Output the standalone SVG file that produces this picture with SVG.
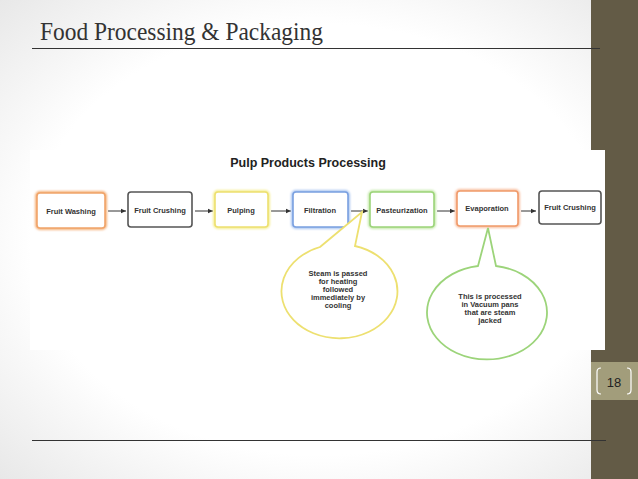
<svg xmlns="http://www.w3.org/2000/svg" width="638" height="479" viewBox="0 0 638 479">
<defs>
<radialGradient id="bg" cx="0.5" cy="0.5" r="0.75"><stop offset="0.6" stop-color="#ffffff"/><stop offset="1" stop-color="#e4e4e4"/></radialGradient>
<marker id="ar" markerWidth="6" markerHeight="6" refX="5" refY="3" orient="auto"><path d="M0,0.8 L5,3 L0,5.2 z" fill="#333"/></marker>
<filter id="gl" x="-20%" y="-20%" width="140%" height="140%"><feGaussianBlur stdDeviation="1.2"/></filter>
</defs>
<style>
.b{fill:#fff;stroke-width:1.6}
.t{font-family:"Liberation Sans",Arial,sans-serif;font-weight:bold;font-size:7.5px;fill:#333;text-anchor:middle}
.c{stroke:#333;stroke-width:1;fill:none;marker-end:url(#ar)}
</style>
<rect width="638" height="479" fill="url(#bg)"/>
<rect x="591" y="0" width="47" height="479" fill="#635b46"/>
<rect x="30" y="150" width="575" height="200" fill="#fff"/>
<rect x="591" y="362" width="47" height="38" fill="#a29d7b"/>
<path d="M601,368 q-4,0 -4,4 v18 q0,4 4,4 M627,368 q4,0 4,4 v18 q0,4 -4,4" fill="none" stroke="#fff" stroke-width="1.2"/>
<text x="614" y="387" font-family="'Liberation Sans',Arial,sans-serif" font-size="13" text-anchor="middle" fill="#222">18</text>
<text x="40" y="40" font-family="'Liberation Serif',serif" font-size="25" fill="#333" textLength="283" lengthAdjust="spacingAndGlyphs">Food Processing &amp; Packaging</text>
<line x1="32" y1="48.5" x2="600" y2="48.5" stroke="#333" stroke-width="1"/>
<line x1="32" y1="440.5" x2="606" y2="440.5" stroke="#333" stroke-width="1"/>
<text x="308" y="167" font-family="'Liberation Sans',Arial,sans-serif" font-weight="bold" font-size="12.5" fill="#222" text-anchor="middle">Pulp Products Processing</text>
<g id="connectors">
<line class="c" x1="108" y1="211" x2="126" y2="211"/>
<line class="c" x1="195" y1="211" x2="213" y2="211"/>
<line class="c" x1="271" y1="211" x2="291" y2="211"/>
<line class="c" x1="351" y1="211" x2="368" y2="211"/>
<line class="c" x1="437" y1="211" x2="455" y2="211"/>
<line class="c" x1="521" y1="211" x2="536" y2="211"/>
</g>
<g id="n1"><rect x="37" y="193" width="68" height="35" rx="3" fill="none" stroke="#f5b27a" stroke-width="4" filter="url(#gl)"/><rect class="b" x="37" y="193" width="68" height="35" rx="3" stroke="#f0a46a"/><text class="t" x="71" y="214">Fruit Washing</text></g>
<g id="n2"><rect class="b" x="128" y="192" width="64" height="35" rx="3" stroke="#555"/><text class="t" x="160" y="213">Fruit Crushing</text></g>
<g id="n3"><rect x="215" y="192" width="53" height="35" rx="3" fill="none" stroke="#f5ee90" stroke-width="4" filter="url(#gl)"/><rect class="b" x="215" y="192" width="53" height="35" rx="3" stroke="#ede070"/><text class="t" x="241" y="213">Pulping</text></g>
<g id="n4"><rect x="293" y="192" width="55" height="35" rx="3" fill="none" stroke="#a8c4f0" stroke-width="4" filter="url(#gl)"/><rect class="b" x="293" y="192" width="55" height="35" rx="3" stroke="#7aa0e0"/><text class="t" x="320" y="213">Filtration</text></g>
<g id="n5"><rect x="370" y="192" width="64" height="35" rx="3" fill="none" stroke="#c4e8a8" stroke-width="4" filter="url(#gl)"/><rect class="b" x="370" y="192" width="64" height="35" rx="3" stroke="#9cd47a"/><text class="t" x="402" y="213">Pasteurization</text></g>
<g id="n6"><rect x="457" y="191" width="61" height="35" rx="3" fill="none" stroke="#f8bfa0" stroke-width="4" filter="url(#gl)"/><rect class="b" x="457" y="191" width="61" height="35" rx="3" stroke="#f09a6a"/><text class="t" x="487" y="211">Evaporation</text></g>
<g id="n7"><rect class="b" x="539" y="191" width="62" height="33" rx="3" stroke="#555"/><text class="t" x="570" y="210">Fruit Crushing</text></g>
<g id="callout1"><path d="M320,247 L362,212 L355,246 A58,47 0 1 1 320,247 Z" fill="#fff" stroke="#ede070" stroke-width="1.8"/>
<text class="t" x="338" y="276">Steam is passed</text><text class="t" x="338" y="284">for heating</text><text class="t" x="338" y="292">followed</text><text class="t" x="338" y="300">immediately by</text><text class="t" x="338" y="308">cooling</text></g>
<g id="callout2"><path d="M478,266 L488,228 L496,266 A60,47 0 1 1 478,266 Z" fill="#fff" stroke="#9cd47a" stroke-width="1.8"/>
<text class="t" x="490" y="299">This is processed</text><text class="t" x="490" y="307">in Vacuum pans</text><text class="t" x="490" y="315">that are steam</text><text class="t" x="490" y="323">jacked</text></g>
</svg>
